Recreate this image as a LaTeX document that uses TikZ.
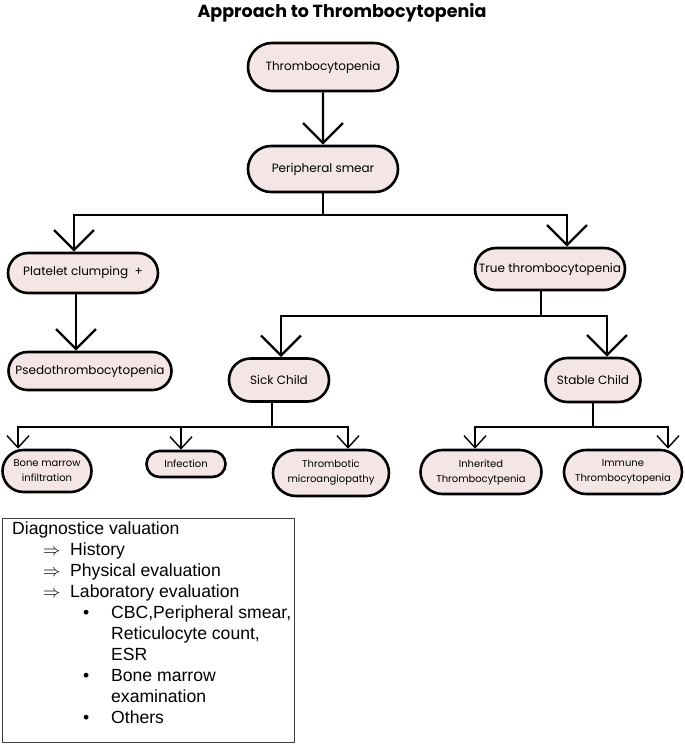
\documentclass[tikz,border=0pt]{standalone}
\usepackage{fontspec}
\setmainfont{Poppins}
\newfontfamily\listfont{Liberation Sans}
\usetikzlibrary{arrows.meta,shapes.misc}

\definecolor{pillpink}{RGB}{243,230,228}
\definecolor{framegray}{RGB}{60,60,60}

\tikzset{
  pill/.style 2 args={rounded rectangle, draw, line width=2.6pt, fill=pillpink,
    align=center, inner sep=1pt, minimum width=#1, minimum height=#2},
  upper/.style={font=\fontsize{12}{14}\selectfont},
  lower/.style={font=\fontsize{10}{15}\selectfont},
  bigarrow/.style={line width=2.4pt, -{Straight Barb[length=20pt, width=40pt]}},
  smallarrow/.style={line width=1.4pt, -{Straight Barb[length=12pt, width=22pt]}},
}
\newcommand{\thenarrow}{\makebox[27pt][l]{\fontsize{19}{19}\selectfont$\Rightarrow$}}
\newcommand{\dotmark}{\makebox[28pt][l]{\textbullet}}

\begin{document}
\begin{tikzpicture}[x=1pt, y=-1pt]
        \useasboundingbox (0,0) rectangle (685,745);

        \node[font=\bfseries\fontsize{17.5}{20}\selectfont] (title) at (342,13) {Approach to Thrombocytopenia};

        % main chain
        \node[pill={152pt}{48pt}, upper] (thr) at (323,67) {Thrombocytopenia};
        \node[pill={152pt}{46pt}, upper] (smear) at (323,169) {Peripheral smear};
        \node[pill={152pt}{40pt}, upper] (clump) at (83,273) {Platelet clumping \ +};
        \node[pill={165pt}{38pt}, upper] (pseudo) at (90,371) {Psedothrombocytopenia};
        \node[pill={152pt}{42pt}, upper] (true) at (550,269) {True thrombocytopenia};
        \node[pill={102pt}{43pt}, upper] (sick) at (279,380) {Sick Child};
        \node[pill={97pt}{44pt}, upper] (stable) at (593,380) {Stable Child};

        % bottom row
        \node[pill={91pt}{42pt}, lower] (marrow) at (47,471) {Bone marrow\\infiltration};
        \node[pill={81pt}{26pt}, lower] (infect) at (186,464) {Infection};
        \node[pill={118pt}{46pt}, lower] (thromb) at (331,473) {Thrombotic\\microangiopathy};
        \node[pill={123pt}{44pt}, lower] (inher) at (481,472) {Inherited\\Thrombocytpenia};
        \node[pill={120pt}{44pt}, lower] (immune) at (623,472) {Immune\\Thrombocytopenia};

        \coordinate (j1) at (323,215);
        \coordinate (j2) at (541,316);
        \coordinate (j3) at (272,427);
        \coordinate (j4) at (593,427);

        \draw[bigarrow] (thr) -- (smear);
        \draw[line width=2.4pt] (smear) -- (j1);
        \draw[bigarrow] (j1) -| ([xshift=-9pt]clump.north);
        \draw[bigarrow] (j1) -| ([xshift=17pt]true.north);
        \draw[bigarrow] ([xshift=-7pt]clump.south) -- ([xshift=-14pt]pseudo.north);

        \draw[line width=2.4pt] ([xshift=-9pt]true.south) -- (j2);
        \draw[bigarrow] (j2) -| ([xshift=2pt]sick.north);
        \draw[bigarrow] (j2) -| ([xshift=14pt]stable.north);

        \draw[line width=1.4pt] ([xshift=-7pt]sick.south) -- (j3);
        \draw[smallarrow] (j3) -| ([xshift=-29pt]marrow.north);
        \draw[smallarrow] (j3) -| ([xshift=-5pt]infect.north);
        \draw[smallarrow] (j3) -| ([xshift=17pt]thromb.north);

        \draw[line width=1.4pt] (stable) -- (j4);
        \draw[smallarrow] (j4) -| ([xshift=-6pt]inher.north);
        \draw[smallarrow] (j4) -| ([xshift=45pt]immune.north);

        % evaluation box
        \node[draw=framegray, line width=1.1pt, anchor=north west, inner sep=0pt,
              minimum width=292pt, minimum height=224pt] (diagbox) at (2,518) {};
        \node[anchor=north west, align=left, inner sep=0pt,
              font=\listfont\fontsize{17.6}{21}\selectfont] (diagtext) at (12,522) {%
          Diagnostice valuation\\
          \hspace*{31pt}\thenarrow History\\
          \hspace*{31pt}\thenarrow Physical evaluation\\
          \hspace*{31pt}\thenarrow Laboratory evaluation\\
          \hspace*{71pt}\dotmark CBC,Peripheral smear,\\
          \hspace*{99pt}Reticulocyte count,\\
          \hspace*{99pt}ESR\\
          \hspace*{71pt}\dotmark Bone marrow\\
          \hspace*{99pt}examination\\
          \hspace*{71pt}\dotmark Others};
    \end{tikzpicture}
\end{document}
